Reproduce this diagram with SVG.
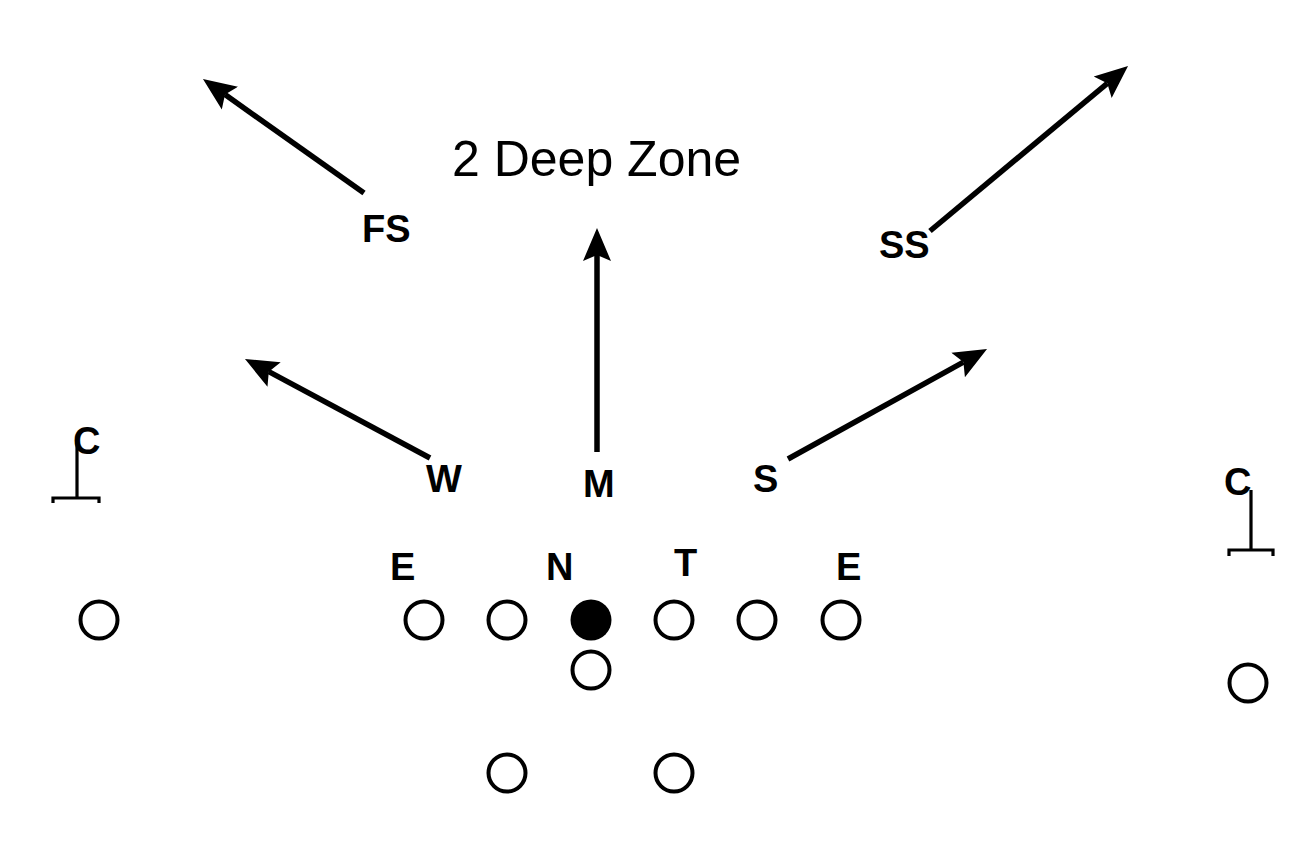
<svg xmlns="http://www.w3.org/2000/svg" width="1316" height="858" viewBox="0 0 1316 858">
<style>
.lbl{font-family:"Liberation Sans",Arial,sans-serif;font-weight:bold;font-size:38px;fill:#000}
.title{font-family:"Liberation Sans",Arial,sans-serif;font-size:50px;fill:#000}
.pl{fill:#fff;stroke:#000;stroke-width:4}
.arr{stroke:#000;stroke-width:5.5;fill:none;marker-end:url(#ah)}
.mk{stroke:#000;stroke-width:3.2;fill:none}
</style>
<defs>
<marker id="ah" viewBox="0 -15 34 30" refX="6" refY="0" markerWidth="34" markerHeight="30" markerUnits="userSpaceOnUse" orient="auto">
<path d="M0,-14 L33,0 L0,14 L6,0 z" fill="#000"/>
</marker>
</defs>
<rect width="1316" height="858" fill="#fff"/>
<text class="title" x="452" y="176">2 Deep Zone</text>
<g id="connectors">
<line class="arr" x1="364" y1="193" x2="225" y2="94.6"/>
<line class="arr" x1="930" y1="231" x2="1107.3" y2="83.3"/>
<line class="arr" x1="430" y1="458" x2="268.8" y2="371.7"/>
<line class="arr" x1="597" y1="452" x2="597" y2="255"/>
<line class="arr" x1="788" y1="459" x2="963.4" y2="362.1"/>
</g>
<g id="FS"><text class="lbl" x="362" y="242">FS</text></g>
<g id="SS"><text class="lbl" x="879" y="258">SS</text></g>
<g id="W"><text class="lbl" x="426" y="492">W</text></g>
<g id="M"><text class="lbl" x="583" y="497">M</text></g>
<g id="S"><text class="lbl" x="753" y="492">S</text></g>
<g id="E1"><text class="lbl" x="390" y="580">E</text></g>
<g id="N"><text class="lbl" x="546" y="580">N</text></g>
<g id="T"><text class="lbl" x="674" y="576">T</text></g>
<g id="E2"><text class="lbl" x="836" y="580">E</text></g>
<g id="C1">
<path class="mk" d="M77,441 V498 M53,503 V498 H99 V503"/>
<text class="lbl" x="73" y="454">C</text>
</g>
<g id="C2">
<path class="mk" d="M1251,490 V550 M1229,556 V550 H1273 V556"/>
<text class="lbl" x="1224" y="495">C</text>
</g>
<g id="O1"><circle class="pl" cx="99" cy="620" r="18.5"/></g>
<g id="O2"><circle class="pl" cx="424" cy="620" r="18.5"/></g>
<g id="O3"><circle class="pl" cx="507" cy="620" r="18.5"/></g>
<g id="Ball"><circle cx="591" cy="620" r="20.5" fill="#000"/></g>
<g id="O4"><circle class="pl" cx="674" cy="620" r="18.5"/></g>
<g id="O5"><circle class="pl" cx="757" cy="620" r="18.5"/></g>
<g id="O6"><circle class="pl" cx="841" cy="620" r="18.5"/></g>
<g id="QB"><circle class="pl" cx="591" cy="670" r="18.5"/></g>
<g id="B1"><circle class="pl" cx="507" cy="773" r="18.5"/></g>
<g id="B2"><circle class="pl" cx="674" cy="773" r="18.5"/></g>
<g id="O7"><circle class="pl" cx="1248" cy="683" r="18.5"/></g>
</svg>
